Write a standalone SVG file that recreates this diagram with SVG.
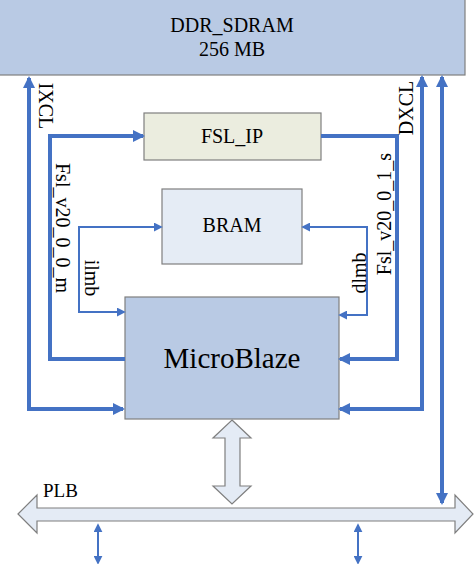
<svg xmlns="http://www.w3.org/2000/svg" width="474" height="564" viewBox="0 0 474 564">
<style>
.box{stroke:#7f7f7f;stroke-width:1.2}
.t{font-family:"Liberation Serif","Times New Roman",serif;font-size:20px;fill:#000}
.thick{fill:none;stroke:#4472c4;stroke-width:4}
.thin{fill:none;stroke:#4472c4;stroke-width:2}
.hollow{fill:#e4ebf5;stroke:#7f7f7f;stroke-width:1.2}
</style>
<defs>
<marker id="ah" markerUnits="userSpaceOnUse" viewBox="0 0 12 12" refX="10" refY="6" markerWidth="12" markerHeight="12" orient="auto-start-reverse">
<path d="M0,0 L12,6 L0,12 Z" fill="#4472c4"/>
</marker>
<marker id="as" markerUnits="userSpaceOnUse" viewBox="0 0 10 10" refX="8" refY="5" markerWidth="9" markerHeight="9" orient="auto-start-reverse">
<path d="M0,0 L10,5 L0,10 Z" fill="#4472c4"/>
</marker>
</defs>
<g id="ddr">
<rect class="box" x="-1" y="-1" width="466" height="76" fill="#b9cae4"/>
<text class="t" x="232" y="32" text-anchor="middle">DDR_SDRAM</text>
<text class="t" x="232" y="56" text-anchor="middle">256 MB</text>
</g>
<g id="fsl_ip">
<rect class="box" x="144" y="113" width="177" height="47" fill="#ebeddf"/>
<text class="t" x="232" y="143" text-anchor="middle">FSL_IP</text>
</g>
<g id="bram">
<rect class="box" x="162" y="189" width="140" height="75" fill="#e5ecf5"/>
<text class="t" x="232" y="232" text-anchor="middle">BRAM</text>
</g>
<g id="microblaze">
<rect class="box" x="125" y="297" width="214" height="122" fill="#b9cae4"/>
<text class="t" x="232" y="368" text-anchor="middle" style="font-size:29px">MicroBlaze</text>
</g>
<g id="plb">
<polygon class="hollow" points="18,514 37,495 37,508 455,508 455,495 473,514 455,533 455,521 37,521 37,533"/>
<text class="t" x="43" y="497" style="font-size:19px">PLB</text>
</g>
<g id="connectors">
<path class="thick" d="M29,78 V409 H123" marker-start="url(#ah)" marker-end="url(#ah)"/>
<path class="thick" d="M125,359 H50 V136 H143" marker-end="url(#ah)"/>
<path class="thin" d="M161,227 H79 V312 H124" marker-start="url(#as)" marker-end="url(#as)"/>
<path class="thick" d="M321,136 H397 V359 H340" marker-end="url(#ah)"/>
<path class="thin" d="M303,227 H367 V315 H340" marker-start="url(#as)" marker-end="url(#as)"/>
<path class="thick" d="M422,77 V409 H340" marker-start="url(#ah)" marker-end="url(#ah)"/>
<path class="thick" d="M442,77 V503" marker-start="url(#ah)" marker-end="url(#ah)"/>
<path class="thin" d="M98,525 V563" marker-start="url(#as)" marker-end="url(#as)"/>
<path class="thin" d="M358,525 V563" marker-start="url(#as)" marker-end="url(#as)"/>
<polygon class="hollow" points="232,420 251,438 240,438 240,486 251,486 232,504 213,486 225,486 225,438 213,438"/>
<text class="t" transform="translate(45,106) rotate(90)" text-anchor="middle" y="6">IXCL</text>
<text class="t" transform="translate(62,228) rotate(90)" text-anchor="middle" y="6">Fsl_v20_0_0_m</text>
<text class="t" transform="translate(91,278) rotate(90)" text-anchor="middle" y="6">ilmb</text>
<text class="t" transform="translate(407,108) rotate(-90)" text-anchor="middle" y="6">DXCL</text>
<text class="t" transform="translate(385,214) rotate(-90)" text-anchor="middle" y="6">Fsl_v20_0_1_s</text>
<text class="t" transform="translate(360,273) rotate(-90)" text-anchor="middle" y="6">dlmb</text>
</g>
</svg>
